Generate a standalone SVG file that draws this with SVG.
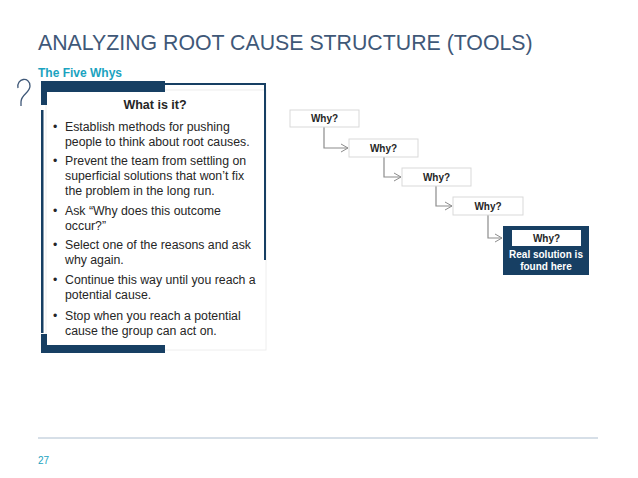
<svg xmlns="http://www.w3.org/2000/svg" width="638" height="478" viewBox="0 0 638 478">
<defs>
<marker id="ar" markerWidth="10" markerHeight="10" refX="8" refY="5" orient="auto" markerUnits="userSpaceOnUse"><path d="M1,1 L8,5 L1,9" fill="none" stroke="#8c8c8c" stroke-width="1"/></marker>
</defs>
<style>
text{font-family:"Liberation Sans",Arial,sans-serif}
.b{font-size:12.3px;fill:#262626}
.w{font-size:10px;font-weight:bold;fill:#262626;text-anchor:middle}
.box{fill:#fff;stroke:#d9d9d9;stroke-width:1}
.c{fill:none;stroke:#8c8c8c;stroke-width:1.2}
</style>
<rect width="638" height="478" fill="#fff"/>
<text x="38" y="50" font-size="21.3" fill="#3f5878">ANALYZING ROOT CAUSE STRUCTURE (TOOLS)</text>
<text x="38" y="77" font-size="12" font-weight="bold" fill="#1ba3c0">The Five Whys</text>
<g id="panel">
<path d="M18,88 C16,78 30,76 30,86 C30,93 21,94 21,102 L21,106" fill="none" stroke="#3f5878" stroke-width="1.3"/>
<rect x="46" y="90" width="220" height="260" fill="#fff" stroke="#eeeeee"/>
<rect x="41" y="81" width="124" height="11" fill="#173f63"/>
<rect x="41" y="81" width="6" height="24" fill="#173f63"/>
<path d="M165,84 H265 V260" fill="none" stroke="#173f63" stroke-width="2"/>
<rect x="41" y="110" width="2.5" height="223" fill="#173f63"/>
<rect x="41" y="334" width="6" height="19" fill="#173f63"/>
<rect x="41" y="345" width="124" height="8" fill="#173f63"/>
<text x="155" y="109" font-size="12.5" font-weight="bold" fill="#262626" text-anchor="middle">What is it?</text>
<g class="b">
<text x="53" y="131">•</text><text x="65" y="131">Establish methods for pushing</text><text x="65" y="146">people to think about root causes.</text>
<text x="53" y="165">•</text><text x="65" y="165">Prevent the team from settling on</text><text x="65" y="180">superficial solutions that won’t fix</text><text x="65" y="195">the problem in the long run.</text>
<text x="53" y="215">•</text><text x="65" y="215">Ask “Why does this outcome</text><text x="65" y="230">occur?”</text>
<text x="53" y="249">•</text><text x="65" y="249">Select one of the reasons and ask</text><text x="65" y="264">why again.</text>
<text x="53" y="284">•</text><text x="65" y="284">Continue this way until you reach a</text><text x="65" y="299">potential cause.</text>
<text x="53" y="320">•</text><text x="65" y="320">Stop when you reach a potential</text><text x="65" y="335">cause the group can act on.</text>
</g>
</g>
<g id="connectors">
<path class="c" d="M324,127 V148 H348" marker-end="url(#ar)"/>
<path class="c" d="M384,157 V177 H401" marker-end="url(#ar)"/>
<path class="c" d="M436,186 V206 H452" marker-end="url(#ar)"/>
<path class="c" d="M488,215 V238 H502" marker-end="url(#ar)"/>
</g>
<g id="why1"><rect class="box" x="290" y="110" width="69" height="17"/><text class="w" x="324.5" y="122">Why?</text></g>
<g id="why2"><rect class="box" x="349" y="139" width="69" height="18"/><text class="w" x="383.5" y="151.5">Why?</text></g>
<g id="why3"><rect class="box" x="402" y="168" width="69" height="18"/><text class="w" x="436.5" y="180.5">Why?</text></g>
<g id="why4"><rect class="box" x="453" y="197" width="70" height="18"/><text class="w" x="488" y="209.5">Why?</text></g>
<g id="why5"><rect x="503" y="226" width="86" height="49" fill="#173f63"/><rect x="512" y="230" width="69" height="16" fill="#fff"/><text class="w" x="546.5" y="242">Why?</text>
<text x="546" y="258" font-size="10" font-weight="bold" fill="#fff" text-anchor="middle">Real solution is</text><text x="546" y="270" font-size="10" font-weight="bold" fill="#fff" text-anchor="middle">found here</text></g>
<line x1="38" y1="438" x2="598" y2="438" stroke="#aebfd0" stroke-width="1"/>
<text x="38" y="464" font-size="10" fill="#1ba3c0">27</text>
</svg>
